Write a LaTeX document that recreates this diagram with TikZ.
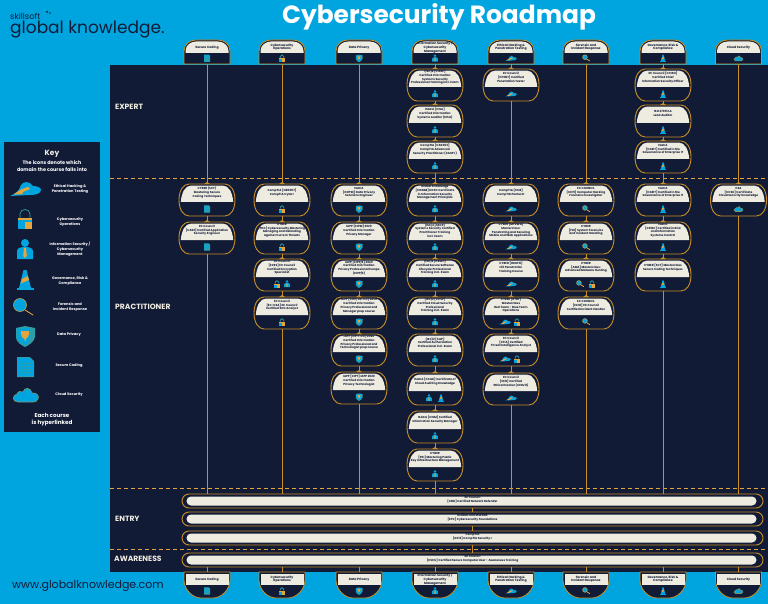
\documentclass[tikz,border=0pt]{standalone}
\usepackage{fontspec}
\setmainfont{Poppins}
\usetikzlibrary{positioning}

\definecolor{skyblue}{HTML}{00A5E0}
\definecolor{panelnavy}{HTML}{121B36}
\definecolor{creamfill}{HTML}{EEEBE0}
\definecolor{goldline}{HTML}{C98F26}
\definecolor{dashgold}{HTML}{E6A53C}
\definecolor{tealline}{HTML}{2E9DA8}

\tikzset{
  cardbox/.style={minimum width=56pt,minimum height=32pt,inner sep=0pt},
  tabbox/.style={minimum width=46pt,minimum height=24pt,inner sep=0pt},
  barbox/.style={draw=goldline,line width=0.9pt,fill=panelnavy,rounded corners=7pt,minimum width=581pt,minimum height=14pt,inner sep=0pt},
  cardtext/.style={font=\fontsize{2.9}{3.7}\selectfont\bfseries,align=center,text=panelnavy,inner sep=0pt},
  tabtext/.style={font=\fontsize{3.1}{3.7}\selectfont\bfseries,align=center,text=panelnavy,inner sep=0pt},
  keytext/.style={font=\fontsize{3.6}{5.2}\selectfont\bfseries,align=center,text=white,inner sep=0pt},
  leveltext/.style={font=\fontsize{7.6}{9}\selectfont\bfseries,text=creamfill,anchor=west,inner sep=0pt},
  trunk/.style={draw=goldline,line width=0.8pt},
  levelline/.style={draw=dashgold,line width=0.8pt,dash pattern=on 4pt off 3pt},
  pics/hackicon/.style={code={
    \fill[skyblue] (-15,7) .. controls (-9,5) and (-6,2) .. (-4,-4) .. controls (-2,-8) and (5,-8) .. (8,-3) .. controls (11,-3) and (16,-2) .. (16,1) .. controls (16,5) and (10,6) .. (4,6) -- cycle;
    \fill[dashgold] (-12,5.5) -- (-3,0) -- (3,-2) -- (5,0) -- (-2,3) -- (-3,5.5) -- cycle;
  }},
  pics/lockicon/.style={code={
    \draw[tealline,line width=0.7pt] (-5,-1) -- (-5,-5) .. controls (-5,-11) and (5,-11) .. (5,-5) -- (5,-1);
    \fill[skyblue] (-7,-1) rectangle (7,10);
    \fill[dashgold] (0,3) rectangle (7,10);
    \fill[dashgold] (-7,-1) rectangle (7,1);
  }},
  pics/personicon/.style={code={
    \fill[skyblue] (0,-7) circle [radius=4];
    \fill[skyblue] (-8,9) -- (-8,1) .. controls (-8,-2) and (-4,-3) .. (0,-3) .. controls (4,-3) and (8,-2) .. (8,1) -- (8,9) -- cycle;
    \fill[dashgold] (-1,-2) -- (1,-2) -- (1.8,6) -- (0,8) -- (-1.8,6) -- cycle;
  }},
  pics/coneicon/.style={code={
    \fill[skyblue] (-1.5,-10) -- (1.5,-10) -- (6,8) -- (-6,8) -- cycle;
    \fill[dashgold] (-3,-1) -- (2.8,-4) -- (4,0) -- (-4.2,3.5) -- cycle;
    \fill[skyblue] (-8.5,8) rectangle (8.5,9.5);
  }},
  pics/lensicon/.style={code={
    \draw[dashgold,line width=0.8pt,line cap=round] (2,2) -- (10,7);
    \draw[dashgold!70!tealline,fill=skyblue,line width=0.6pt] (-3,-3) circle [radius=6.5];
  }},
  pics/shieldicon/.style={code={
    \fill[tealline] (-9,-8) -- (0,-10) -- (10,-8) -- (10,1) .. controls (9,6) and (4,9) .. (0,11) .. controls (-4,9) and (-9,6) .. (-9,1) -- cycle;
    \fill[skyblue] (-8,-7) -- (5,-8) -- (5,4) .. controls (3,6) and (1,8) .. (0,9) .. controls (-4,7) and (-8,5) .. (-8,0) -- cycle;
    \fill[dashgold] (-4,-5) -- (4,-5) -- (4,-2) .. controls (4,1) and (2,2) .. (0.5,3) -- (0.5,5) -- (-0.5,5) -- (-0.5,3) .. controls (-2,2) and (-4,1) .. (-4,-2) -- cycle;
  }},
  pics/docicon/.style={code={
    \fill[tealline] (-8,-10) -- (5,-10) -- (9,-6) -- (9,10) -- (-8,10) -- cycle;
    \fill[skyblue] (-7,-9) -- (4.5,-9) -- (8,-5.5) -- (8,9) -- (-7,9) -- cycle;
    \foreach \ly in {-4,-1,2,5} \draw[tealline,line width=0.35pt] (-5,\ly) -- (6,\ly);
  }},
  pics/cloudicon/.style={code={
    \draw[goldline!60!skyblue,fill=skyblue,line width=0.6pt] (-8,7) .. controls (-14,7) and (-14,0) .. (-9,-1) .. controls (-8,-4) and (-5,-4) .. (-3,-3) .. controls (-2,-8) and (5,-8) .. (6,-2) .. controls (10,-3) and (14,1) .. (12,4) .. controls (11,7) and (9,7) .. (7,7) -- cycle;
  }},
}

% small icon inside a card or a tab
\newcommand{\smallicon}[3]{\pic[scale=0.36] at (#2,#3) {#1};}

% course card: name, x, top, text, icons
\newcommand{\coursecard}[5]{%
  \begin{scope}[shift={(#2,#3)}]
    \draw[goldline,line width=0.9pt,fill=panelnavy] (-18,0) -- (18,0) .. controls (24,0) and (28,7) .. (28,16) .. controls (28,25) and (24,32) .. (18,32) -- (-18,32) .. controls (-24,32) and (-28,25) .. (-28,16) .. controls (-28,7) and (-24,0) .. (-18,0) -- cycle;
    \fill[creamfill] (-16,1.6) -- (16,1.6) .. controls (21.5,1.6) and (25.5,8) .. (26.2,18) -- (-26.2,18) .. controls (-25.5,8) and (-21.5,1.6) .. (-16,1.6) -- cycle;
    \fill[goldline] (-3,0) -- (3,0) -- (0,-2) -- cycle;
    \node[cardbox] (#1) at (0,16) {};
    \node[cardtext] (#1text) at (0,8.5) {#4};
    #5
  \end{scope}}

% dome on top of the panel
\newcommand{\toptab}[4]{%
  \begin{scope}[shift={(#2,40)}]
    \draw[goldline,line width=0.8pt,fill=panelnavy] (-23,24) -- (-23,11) .. controls (-23,4) and (-17,0) .. (-11,0) -- (11,0) .. controls (17,0) and (23,4) .. (23,11) -- (23,24) -- cycle;
    \fill[creamfill] (-21.5,13) -- (-21.5,11) .. controls (-21.5,5) and (-16,1.5) .. (-11,1.5) -- (11,1.5) .. controls (16,1.5) and (21.5,5) .. (21.5,11) -- (21.5,13) -- cycle;
    \node[tabbox] (#1) at (0,12) {};
    \node[tabtext] (#1text) at (0,7.3) {#3};
    \smallicon{#4}{0}{18.3}
  \end{scope}}

% same tab, under the panel
\newcommand{\bottomtab}[4]{%
  \begin{scope}[shift={(#2,572)}]
    \draw[goldline,line width=0.8pt,fill=panelnavy] (-23,0) -- (23,0) -- (23,8) .. controls (23,18) and (14,26) .. (6,26) -- (-6,26) .. controls (-14,26) and (-23,18) .. (-23,8) -- cycle;
    \fill[creamfill] (-21.5,1.7) rectangle (21.5,13);
    \node[tabbox,minimum height=26pt] (#1) at (0,13) {};
    \node[tabtext] (#1text) at (0,7.3) {#3};
    \smallicon{#4}{0}{19}
  \end{scope}}

% long bar: name, y, text
\newcommand{\longbar}[3]{%
  \node[barbox] (#1) at (472.5,#2) {};
  \fill[creamfill,rounded corners=4.5pt] (186.5,#2-4.5) rectangle (756.5,#2+4.5);
  \node[cardtext] (#1text) at (472.5,#2-1.4) {#3};}

\begin{document}
\begin{tikzpicture}[x=1pt,y=-1pt]
    \useasboundingbox (0,0) rectangle (768,604);
    \fill[skyblue] (0,0) rectangle (768,604);

    % header
    \node[font=\fontsize{8.3}{10}\selectfont,text=panelnavy,anchor=west,inner sep=0pt] (skillsoft) at (10,16.5) {skillsoft};
    \fill[panelnavy] (47,12) circle [radius=1];
    \fill[panelnavy] (50,13) circle [radius=0.8];
    \node[font=\fontsize{17}{20}\selectfont,text=panelnavy,anchor=west,inner sep=0pt] (knowledge) at (10,30) {global knowledge.};
    \node[font=\fontsize{24.9}{30}\selectfont\bfseries,text=white,inner sep=0pt] (roadmap) at (439,17) {Cybersecurity Roadmap};
    \node[font=\fontsize{11}{13}\selectfont,text=panelnavy,anchor=west,inner sep=0pt] (website) at (12,585.5) {www.globalknowledge.com};

    % panel
    \fill[panelnavy] (110,65) rectangle (768,572);
    \draw[levelline] (110,178) -- (768,178);
    \draw[levelline] (110,488) -- (768,488);
    \draw[levelline] (110,549) -- (768,549);
    \node[leveltext] (expert) at (115,107) {EXPERT};
    \node[leveltext] (practitioner) at (115,307) {PRACTITIONER};
    \node[leveltext] (entry) at (115,518.5) {ENTRY};
    \node[leveltext] (awareness) at (114,559) {AWARENESS};

    % key
    \fill[panelnavy] (4,142) rectangle (100,432);
    \node[font=\fontsize{7.5}{9}\selectfont\bfseries,text=creamfill,inner sep=0pt] (keytitle) at (52,154) {Key};
    \node[font=\fontsize{4.9}{6.4}\selectfont\bfseries,text=white,align=center,inner sep=0pt] (keynote) at (52,166) {The icons denote which\\domain the course falls into};
    \pic at (25,189) {hackicon};
    \node[keytext] (keyhack) at (70,189) {Ethical Hacking \&\\Penetration Testing};
    \pic at (25,219) {lockicon};
    \node[keytext] (keyops) at (70,222) {Cybersecurity\\Operations};
    \pic at (25,250) {personicon};
    \node[keytext] (keyinfo) at (70,249) {Information Security /\\Cybersecurity\\Management};
    \pic at (25,280) {coneicon};
    \node[keytext] (keyrisk) at (70,281) {Governance, Risk \&\\Compliance};
    \pic at (23,308) {lensicon};
    \node[keytext] (keyforensic) at (70,307) {Forensic and\\Incident Response};
    \pic at (25,336) {shieldicon};
    \node[keytext] (keyprivacy) at (69,335) {Data Privacy};
    \pic at (25,367) {docicon};
    \node[keytext] (keycoding) at (69,366) {Secure Coding};
    \pic at (26,395) {cloudicon};
    \node[keytext] (keycloud) at (69,395) {Cloud Security};
    \node[font=\fontsize{5.6}{7}\selectfont\bfseries,text=white,align=center,inner sep=0pt] (keylink) at (52,420) {Each course\\is hyperlinked};

    % tabs on top
    \toptab{tcoding}{207}{Secure Coding}{docicon}
    \toptab{tops}{282}{Cybersecurity\\Operations}{lockicon}
    \toptab{tprivacy}{359}{Data Privacy}{shieldicon}
    \toptab{tinfo}{435}{Information Security /\\Cybersecurity\\Management}{personicon}
    \toptab{thack}{511}{Ethical Hacking \&\\Penetration Testing}{hackicon}
    \toptab{tforensic}{586}{Forensic and\\Incident Response}{lensicon}
    \toptab{trisk}{663}{Governance, Risk \&\\Compliance}{coneicon}
    \toptab{tcloud}{738.5}{Cloud Security}{cloudicon}

    % tabs under
    \bottomtab{bcoding}{207}{Secure Coding}{docicon}
    \bottomtab{bops}{282}{Cybersecurity\\Operations}{lockicon}
    \bottomtab{bprivacy}{359}{Data Privacy}{shieldicon}
    \bottomtab{binfo}{435}{Information Security /\\Cybersecurity\\Management}{personicon}
    \bottomtab{bhack}{511}{Ethical Hacking \&\\Penetration Testing}{hackicon}
    \bottomtab{bforensic}{586}{Forensic and\\Incident Response}{lensicon}
    \bottomtab{brisk}{663}{Governance, Risk \&\\Compliance}{coneicon}
    \bottomtab{bcloud}{738.5}{Cloud Security}{cloudicon}

    % secure coding
    \coursecard{codea}{207}{184}{CYBER (SCT)\\Mastering Secure\\Coding Techniques}{\smallicon{docicon}{0}{25}}
    \coursecard{codeb}{207}{222}{EC Council\\{}[CASE] Certified Application\\Security Engineer}{\smallicon{docicon}{0}{25}}

    % cybersecurity operations
    \coursecard{opsa}{282}{184}{CompTIA [OR0007]\\CompTIA CySA+}{\smallicon{lockicon}{0}{25}}
    \coursecard{opsb}{282}{222}{CYBER\\{}[PDC] Cybersecurity Mastering:\\Managing and Defending\\Against Current Threats}{\smallicon{lockicon}{0}{25}}
    \coursecard{opsc}{282}{259}{EC Council\\{}[ECES] EC Council\\Certified Encryption\\Specialist}{\smallicon{lockicon}{-5}{25}\smallicon{personicon}{5}{25}}
    \coursecard{opsd}{282}{297}{EC Council\\{}[EC-CSA] EC Council\\Certified SOC Analyst}{\smallicon{lockicon}{0}{25}}

    % data privacy
    \coursecard{priva}{359}{184}{ISACA\\{}[CDPSE] Data Privacy\\Solutions Engineer}{\smallicon{shieldicon}{0}{25}}
    \coursecard{privb}{359}{222}{IAPP [CIPM] 2020\\Certified Information\\Privacy Manager}{\smallicon{shieldicon}{0}{25}}
    \coursecard{privc}{359}{259}{IAPP [CIPP/E] 2020\\Certified Information\\Privacy Professional Europe\\(CIPP/E)}{\smallicon{shieldicon}{0}{25}}
    \coursecard{privd}{359}{297}{IAPP [CIPP/US-CC] 2020\\Certified Information\\Privacy Professional and\\Manager prep course}{\smallicon{shieldicon}{0}{25}}
    \coursecard{prive}{359}{334}{IAPP [CIPT-CC] 2020\\Certified Information\\Privacy Professional and\\Technologist prep course}{\smallicon{shieldicon}{0}{25}}
    \coursecard{privf}{359}{372}{IAPP [CIPT] IAPP 2020\\Certified Information\\Privacy Technologist}{\smallicon{shieldicon}{0}{25}}

    % information security
    \coursecard{infoa}{435}{69}{(ISC)2 [CISSP]\\Certified Information\\Systems Security\\Professional Training incl. Exam}{\smallicon{personicon}{0}{25}}
    \coursecard{infob}{435}{105}{ISACA [CISA]\\Certified Information\\Systems Auditor (CISA)}{\smallicon{personicon}{0}{25}}
    \coursecard{infoc}{435}{141}{CompTIA [CAS003]\\CompTIA Advanced\\Security Practitioner (CASP+)}{\smallicon{personicon}{0}{25}}
    \coursecard{infod}{435}{184}{Global Knowledge\\{}[CISMM] NCSC Certificate\\in Information Security\\Management Principles}{\smallicon{personicon}{0}{25}}
    \coursecard{infoe}{435}{222}{(ISC)2 [SSCP]\\Systems Security Certified\\Practitioner Training\\incl. Exam}{\smallicon{personicon}{0}{25}}
    \coursecard{infof}{435}{259}{(ISC)2 [CSSLP]\\Certified Secure Software\\Lifecycle Professional\\Training incl. Exam}{\smallicon{personicon}{0}{25}}
    \coursecard{infog}{435}{297}{(ISC)2 [CCSP]\\Certified Cloud Security\\Professional\\Training incl. Exam}{\smallicon{personicon}{0}{25}}
    \coursecard{infoh}{435}{334}{(ISC)2 [CAP]\\Certified Authorization\\Professional incl. Exam}{\smallicon{personicon}{0}{25}}
    \coursecard{infoi}{435}{373}{ISACA [CCAK] Certificate of\\Cloud Auditing Knowledge}{\smallicon{personicon}{-6}{25}\smallicon{coneicon}{6}{25}}
    \coursecard{infoj}{435}{411}{ISACA [CISM] Certified\\Information Security Manager}{\smallicon{personicon}{0}{25}}
    \coursecard{infok}{435}{449}{CYBER\\{}[PKI] Mastering Public\\Key Infrastructure Management}{\smallicon{personicon}{0}{25}}

    % ethical hacking
    \coursecard{hacka}{511}{69}{EC Council\\{}[CPENT] Certified\\Penetration Tester}{\smallicon{hackicon}{0}{25}}
    \coursecard{hackb}{511}{184}{CompTIA [CSIE]\\CompTIA Pentest+}{\smallicon{hackicon}{0}{25}}
    \coursecard{hackc}{511}{222}{CYBER [MTXWA]\\Masterclass:\\Penetrating and Securing\\Mobile and Web Applications}{\smallicon{hackicon}{0}{25}}
    \coursecard{hackd}{511}{259}{CYBER [HKOFD]\\Hill Penetration\\Training Course}{\smallicon{hackicon}{0}{25}}
    \coursecard{hacke}{511}{297}{CYBER [RTBT]\\Masterclass\\Red Team - Blue Team\\Operations}{\smallicon{hackicon}{-6}{25}\smallicon{lockicon}{6}{25}}
    \coursecard{hackf}{511}{334}{EC Council\\{}[CTIA] Certified\\Threat Intelligence Analyst}{\smallicon{hackicon}{-6}{25}\smallicon{lockicon}{6}{25}}
    \coursecard{hackg}{511}{373}{EC Council\\{}[CEH] Certified\\Ethical Hacker (CEHv11)}{\smallicon{hackicon}{0}{25}}

    % forensics
    \coursecard{fora}{586}{184}{EC COUNCIL\\{}[CHFI] Computer Hacking\\Forensics Investigator}{\smallicon{lensicon}{0}{25}}
    \coursecard{forb}{586}{222}{CYBER\\{}[FOI] System Forensics\\and Incident Handling}{\smallicon{lensicon}{0}{25}}
    \coursecard{forc}{586}{259}{CYBER\\{}[AMA] Masterclass:\\Advanced Malware Hunting}{\smallicon{lensicon}{-6}{25}\smallicon{lockicon}{6}{25}}
    \coursecard{ford}{586}{297}{EC COUNCIL\\{}[ECIH] EC Council\\Certified Incident Handler}{\smallicon{lensicon}{0}{25}}

    % governance
    \coursecard{riska}{663}{69}{EC Council [CCISO]\\Certified Chief\\Information Security Officer}{\smallicon{coneicon}{0}{25}}
    \coursecard{riskb}{663}{105}{ISO 27001 LA\\Lead Auditor}{\smallicon{coneicon}{0}{25}}
    \coursecard{riskc}{663}{141}{ISACA\\{}[CGEIT] Certified in the\\Governance of Enterprise IT}{\smallicon{coneicon}{0}{25}}
    \coursecard{riskd}{663}{184}{ISACA\\{}[CGEIT] Certified in the\\Governance of Enterprise IT}{\smallicon{coneicon}{0}{25}}
    \coursecard{riske}{663}{222}{ISACA\\{}[CRISC] Certified in Risk\\and Information\\Systems Control}{\smallicon{coneicon}{0}{25}}
    \coursecard{riskf}{663}{259}{CYBER [SCT] Masterclass\\Secure Coding Techniques}{\smallicon{coneicon}{0}{25}}

    % cloud
    \coursecard{clouda}{738.5}{184}{CSA\\{}[CCSK] Certificate\\Cloud Security Knowledge}{\smallicon{cloudicon}{0}{25}}

    % long bars
    \longbar{bcnd}{501}{EC Council\\{}[CND] Certified Network Defender}
    \longbar{bkfc}{519}{GLOBAL KNOWLEDGE\\{}[KFC] Cybersecurity Foundations}
    \longbar{bsec}{538}{CompTIA\\{}[G013] CompTIA Security+}
    \longbar{bcscu}{560}{EC Council\\{}[CSCU] Certified Secure Computer User - Awareness Training}

    % links
    \foreach \from/\to in {tcoding/codea,codea/codeb,tops/opsa,opsa/opsb,opsb/opsc,opsc/opsd,
      tprivacy/priva,priva/privb,privb/privc,privc/privd,privd/prive,prive/privf,
      tinfo/infoa,infoa/infob,infob/infoc,infoc/infod,infod/infoe,infoe/infof,infof/infog,infog/infoh,infoh/infoi,infoi/infoj,infoj/infok,
      thack/hacka,hacka/hackb,hackb/hackc,hackc/hackd,hackd/hacke,hacke/hackf,hackf/hackg,
      tforensic/fora,fora/forb,forb/forc,forc/ford,
      trisk/riska,riska/riskb,riskb/riskc,riskc/riskd,riskd/riske,riske/riskf,
      tcloud/clouda,bcnd/bkfc,bkfc/bsec,bsec/bcscu}
      \draw[trunk] (\from) -- (\to);
    \foreach \from in {codeb,opsd,privf,infok,hackg,ford,riskf,clouda}
      \draw[trunk] (\from) -- (\from |- bcnd.north);
    \foreach \to in {bcoding,bops,bprivacy,binfo,bhack,bforensic,brisk,bcloud}
      \draw[trunk] (\to |- bcscu.south) -- (\to);
\end{tikzpicture}
\end{document}
